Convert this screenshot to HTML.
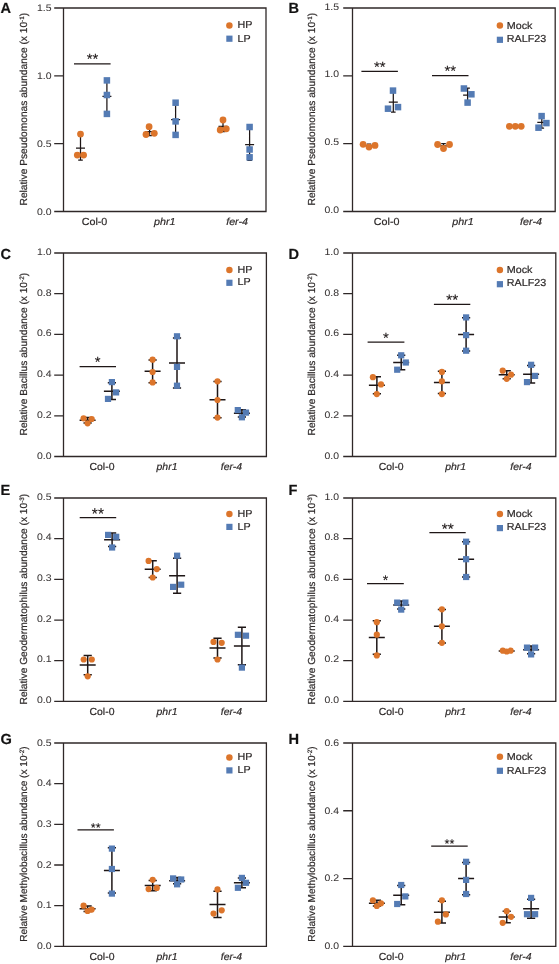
<!DOCTYPE html>
<html lang="en"><head><meta charset="utf-8"><title>Figure</title>
<style>html,body{margin:0;padding:0;background:#fff}body{width:559px;height:964px;overflow:hidden}</style>
</head><body>
<svg width="559" height="964" viewBox="0 0 559 964" style="display:block" font-family='"Liberation Sans", Arial, Helvetica, sans-serif'>
<style>text{stroke:#2e2a2a;stroke-width:.2px;text-rendering:geometricPrecision}text.s{stroke-width:.1px;stroke:#1a1414;fill:#1a1414}text.t{stroke-width:.06px;stroke:#3b3737;fill:#3b3737}</style>
<rect width="559" height="964" fill="#fff"/>
<g>
<path d="M80.5 135.98V160.22M76 148.1H85M78.2 135.98H82.8M78.2 160.22H82.8M106.9 79.64V113.23M102.4 96.43H111.4M104.6 79.64H109.2M104.6 113.23H109.2M149.6 127.3V135.7M145.1 131.5H154.1M147.3 127.3H151.9M147.3 135.7H151.9M175.6 103.5V135.84M171.1 119.67H180.1M173.3 103.5H177.9M173.3 135.84H177.9M223 120.81V131.73M218.5 126.27H227.5M220.7 120.81H225.3M220.7 131.73H225.3M249.6 128.87V160.33M245.1 144.6H254.1M247.3 128.87H251.9M247.3 160.33H251.9" fill="none" stroke="#1e1616" stroke-width="1.25"/>
<circle cx="80.5" cy="134.1" r="3.4" fill="#DC752B"/>
<circle cx="77.3" cy="155.1" r="3.4" fill="#DC752B"/>
<circle cx="83.6" cy="155.1" r="3.4" fill="#DC752B"/>
<rect x="103.65" y="77.15" width="6.5" height="6.5" fill="#547BB4"/>
<rect x="103.65" y="91.75" width="6.5" height="6.5" fill="#547BB4"/>
<rect x="103.65" y="110.65" width="6.5" height="6.5" fill="#547BB4"/>
<circle cx="149.1" cy="126.7" r="3.4" fill="#DC752B"/>
<circle cx="146" cy="134.5" r="3.4" fill="#DC752B"/>
<circle cx="154.3" cy="133.3" r="3.4" fill="#DC752B"/>
<rect x="172.35" y="99.45" width="6.5" height="6.5" fill="#547BB4"/>
<rect x="172.35" y="118.15" width="6.5" height="6.5" fill="#547BB4"/>
<rect x="172.35" y="131.65" width="6.5" height="6.5" fill="#547BB4"/>
<circle cx="223" cy="120" r="3.4" fill="#DC752B"/>
<circle cx="220.2" cy="130" r="3.4" fill="#DC752B"/>
<circle cx="226.3" cy="128.8" r="3.4" fill="#DC752B"/>
<rect x="246.35" y="123.75" width="6.5" height="6.5" fill="#547BB4"/>
<rect x="246.35" y="146.25" width="6.5" height="6.5" fill="#547BB4"/>
<rect x="246.35" y="154.05" width="6.5" height="6.5" fill="#547BB4"/>
<path d="M74 63.9H110.6" stroke="#1e1616" stroke-width="1.25" fill="none"/>
<text x="92.6" y="64.4" font-size="14.9" text-anchor="middle" fill="#2e2a2a" class="s">**</text>
<text transform="translate(51.5 214.55) scale(1.09 1)" font-size="9.6" text-anchor="end" fill="#2e2a2a" class="t">0.0</text>
<text transform="translate(51.5 146.72) scale(1.09 1)" font-size="9.6" text-anchor="end" fill="#2e2a2a" class="t">0.5</text>
<text transform="translate(51.5 78.88) scale(1.09 1)" font-size="9.6" text-anchor="end" fill="#2e2a2a" class="t">1.0</text>
<text transform="translate(51.5 11.05) scale(1.09 1)" font-size="9.6" text-anchor="end" fill="#2e2a2a" class="t">1.5</text>
<path d="M63.5 8H266V211.5H63.5ZM54.2 211.5H63.5M54.2 143.67H63.5M54.2 75.83H63.5M54.2 8H63.5" fill="none" stroke="#2f2828" stroke-width="1.3"/>
<text transform="translate(94.5 225.1) scale(1.055 1)" font-size="10.2" text-anchor="middle" fill="#2e2a2a">Col-0</text>
<text transform="translate(164.7 225.1) scale(1.055 1)" font-size="10.2" text-anchor="middle" fill="#2e2a2a" font-style="italic">phr1</text>
<text transform="translate(237.1 225.1) scale(1.055 1)" font-size="10.2" text-anchor="middle" fill="#2e2a2a" font-style="italic">fer-4</text>
<text transform="translate(27.4 109.15) rotate(-90)" font-size="10.2" text-anchor="middle" fill="#2e2a2a">Relative Pseudomonas abundance (x 10<tspan font-size="6.4" dy="-3.4">-1</tspan><tspan dy="3.4">)</tspan></text>
<circle cx="229.4" cy="25.5" r="3.25" fill="#DC752B"/>
<rect x="226.3" y="35.6" width="6.2" height="6.2" fill="#547BB4"/>
<text transform="translate(237.4 28.4) scale(1.055 1)" font-size="10.2" text-anchor="start" fill="#2e2a2a">HP</text>
<text transform="translate(237.4 41.5) scale(1.055 1)" font-size="10.2" text-anchor="start" fill="#2e2a2a">LP</text>
<text x="0.6" y="13" font-size="14.6" font-weight="bold" fill="#111">A</text>
</g>
<g>
<path d="M369 144.19V147.01M364.5 145.6H373.5M366.7 144.19H371.3M366.7 147.01H371.3M393.3 92.11V112.15M388.8 102.13H397.8M391 92.11H395.6M391 112.15H395.6M443.5 143.52V148.14M439 145.83H448M441.2 143.52H445.8M441.2 148.14H445.8M467.6 88.05V102.22M463.1 95.13H472.1M465.3 88.05H469.9M465.3 102.22H469.9M515.3 126.3V126.3M510.8 126.3H519.8M513 126.3H517.6M513 126.3H517.6M541.8 116.46V128.14M537.3 122.3H546.3M539.5 116.46H544.1M539.5 128.14H544.1" fill="none" stroke="#1e1616" stroke-width="1.25"/>
<circle cx="363.1" cy="144.3" r="3.4" fill="#DC752B"/>
<circle cx="369" cy="147.1" r="3.4" fill="#DC752B"/>
<circle cx="375" cy="145.4" r="3.4" fill="#DC752B"/>
<rect x="389.75" y="87.35" width="6.5" height="6.5" fill="#547BB4"/>
<rect x="384.75" y="105.45" width="6.5" height="6.5" fill="#547BB4"/>
<rect x="394.75" y="103.85" width="6.5" height="6.5" fill="#547BB4"/>
<circle cx="437.6" cy="144.5" r="3.4" fill="#DC752B"/>
<circle cx="443.5" cy="148.5" r="3.4" fill="#DC752B"/>
<circle cx="449.5" cy="144.5" r="3.4" fill="#DC752B"/>
<rect x="460.65" y="85.25" width="6.5" height="6.5" fill="#547BB4"/>
<rect x="468.15" y="91.05" width="6.5" height="6.5" fill="#547BB4"/>
<rect x="464.35" y="99.35" width="6.5" height="6.5" fill="#547BB4"/>
<circle cx="509.4" cy="126.3" r="3.4" fill="#DC752B"/>
<circle cx="515.3" cy="126.3" r="3.4" fill="#DC752B"/>
<circle cx="521.2" cy="126.3" r="3.4" fill="#DC752B"/>
<rect x="538.35" y="112.85" width="6.5" height="6.5" fill="#547BB4"/>
<rect x="543.15" y="119.85" width="6.5" height="6.5" fill="#547BB4"/>
<rect x="535.25" y="124.45" width="6.5" height="6.5" fill="#547BB4"/>
<path d="M361.4 71.3H397.9" stroke="#1e1616" stroke-width="1.25" fill="none"/>
<text x="379.7" y="72.2" font-size="14.9" text-anchor="middle" fill="#2e2a2a" class="s">**</text>
<path d="M432 75.7H468.5" stroke="#1e1616" stroke-width="1.25" fill="none"/>
<text x="450.2" y="76.1" font-size="14.9" text-anchor="middle" fill="#2e2a2a" class="s">**</text>
<text transform="translate(339 213) scale(1.09 1)" font-size="9.6" text-anchor="end" fill="#2e2a2a" class="t">0.0</text>
<text transform="translate(339 145.17) scale(1.09 1)" font-size="9.6" text-anchor="end" fill="#2e2a2a" class="t">0.5</text>
<text transform="translate(339 77.33) scale(1.09 1)" font-size="9.6" text-anchor="end" fill="#2e2a2a" class="t">1.0</text>
<text transform="translate(339 9.5) scale(1.09 1)" font-size="9.6" text-anchor="end" fill="#2e2a2a" class="t">1.5</text>
<path d="M352.5 8H555.2V211.5H352.5ZM343.2 211.5H352.5M343.2 143.67H352.5M343.2 75.83H352.5M343.2 8H352.5" fill="none" stroke="#2f2828" stroke-width="1.3"/>
<text transform="translate(386.7 225.1) scale(1.055 1)" font-size="10.2" text-anchor="middle" fill="#2e2a2a">Col-0</text>
<text transform="translate(463 225.1) scale(1.055 1)" font-size="10.2" text-anchor="middle" fill="#2e2a2a" font-style="italic">phr1</text>
<text transform="translate(531 225.1) scale(1.055 1)" font-size="10.2" text-anchor="middle" fill="#2e2a2a" font-style="italic">fer-4</text>
<text transform="translate(315 109.15) rotate(-90)" font-size="10.2" text-anchor="middle" fill="#2e2a2a">Relative Pseudomonas abundance (x 10<tspan font-size="6.4" dy="-3.4">-1</tspan><tspan dy="3.4">)</tspan></text>
<circle cx="499.9" cy="25.5" r="3.25" fill="#DC752B"/>
<rect x="496.8" y="36.7" width="6.2" height="6.2" fill="#547BB4"/>
<text transform="translate(506.8 28.5) scale(1.055 1)" font-size="10.2" text-anchor="start" fill="#2e2a2a">Mock</text>
<text transform="translate(506.8 42.4) scale(1.055 1)" font-size="10.2" text-anchor="start" fill="#2e2a2a">RALF23</text>
<text x="288.6" y="13" font-size="14.6" font-weight="bold" fill="#111">B</text>
</g>
<g>
<path d="M87.6 417.49V422.91M79.6 420.2H95.6M83.5 417.49H91.7M83.5 422.91H91.7M111.9 382.66V399.6M103.9 391.13H119.9M107.8 382.66H116M107.8 399.6H116M152.6 360V382.73M144.6 371.37H160.6M148.5 360H156.7M148.5 382.73H156.7M177 338.03V387.9M169 362.97H185M172.9 338.03H181.1M172.9 387.9H181.1M217.5 381.48V417.79M209.5 399.63H225.5M213.4 381.48H221.6M213.4 417.79H221.6M241.9 409.68V416.99M233.9 413.33H249.9M237.8 409.68H246M237.8 416.99H246" fill="none" stroke="#1e1616" stroke-width="1.5"/>
<circle cx="83.6" cy="418.3" r="3.1" fill="#DC752B"/>
<circle cx="91.7" cy="419" r="3.1" fill="#DC752B"/>
<circle cx="87.6" cy="423.3" r="3.1" fill="#DC752B"/>
<rect x="108.8" y="379" width="6.2" height="6.2" fill="#547BB4"/>
<rect x="113" y="389.3" width="6.2" height="6.2" fill="#547BB4"/>
<rect x="104.9" y="395.8" width="6.2" height="6.2" fill="#547BB4"/>
<circle cx="152.6" cy="359.7" r="3.1" fill="#DC752B"/>
<circle cx="152.6" cy="372" r="3.1" fill="#DC752B"/>
<circle cx="152.6" cy="382.4" r="3.1" fill="#DC752B"/>
<rect x="173.9" y="333.2" width="6.2" height="6.2" fill="#547BB4"/>
<rect x="173.9" y="363.8" width="6.2" height="6.2" fill="#547BB4"/>
<rect x="173.9" y="382.6" width="6.2" height="6.2" fill="#547BB4"/>
<circle cx="217.5" cy="381.3" r="3.1" fill="#DC752B"/>
<circle cx="217.5" cy="400" r="3.1" fill="#DC752B"/>
<circle cx="217.5" cy="417.6" r="3.1" fill="#DC752B"/>
<rect x="234.7" y="407" width="6.2" height="6.2" fill="#547BB4"/>
<rect x="242.9" y="409.5" width="6.2" height="6.2" fill="#547BB4"/>
<rect x="238.8" y="414.2" width="6.2" height="6.2" fill="#547BB4"/>
<path d="M79.6 366.6H116" stroke="#1e1616" stroke-width="1.25" fill="none"/>
<text x="97.7" y="367.15" font-size="14.9" text-anchor="middle" fill="#2e2a2a" class="s">*</text>
<text transform="translate(51.5 458.5) scale(1.09 1)" font-size="9.6" text-anchor="end" fill="#2e2a2a" class="t">0.0</text>
<text transform="translate(51.5 417.8) scale(1.09 1)" font-size="9.6" text-anchor="end" fill="#2e2a2a" class="t">0.2</text>
<text transform="translate(51.5 377.1) scale(1.09 1)" font-size="9.6" text-anchor="end" fill="#2e2a2a" class="t">0.4</text>
<text transform="translate(51.5 336.4) scale(1.09 1)" font-size="9.6" text-anchor="end" fill="#2e2a2a" class="t">0.6</text>
<text transform="translate(51.5 295.7) scale(1.09 1)" font-size="9.6" text-anchor="end" fill="#2e2a2a" class="t">0.8</text>
<text transform="translate(51.5 255) scale(1.09 1)" font-size="9.6" text-anchor="end" fill="#2e2a2a" class="t">1.0</text>
<path d="M63.5 253H266.4V456.5H63.5ZM54.2 456.5H63.5M54.2 415.8H63.5M54.2 375.1H63.5M54.2 334.4H63.5M54.2 293.7H63.5M54.2 253H63.5" fill="none" stroke="#2f2828" stroke-width="1.3"/>
<text transform="translate(102 470.4) scale(1.025 1)" font-size="10.2" text-anchor="middle" fill="#2e2a2a">Col-0</text>
<text transform="translate(167 470.4) scale(1.025 1)" font-size="10.2" text-anchor="middle" fill="#2e2a2a" font-style="italic">phr1</text>
<text transform="translate(231.5 470.4) scale(1.025 1)" font-size="10.2" text-anchor="middle" fill="#2e2a2a" font-style="italic">fer-4</text>
<text transform="translate(27.4 354.15) rotate(-90)" font-size="10.2" text-anchor="middle" fill="#2e2a2a">Relative Bacillus abundance (x 10<tspan font-size="6.4" dy="-3.4">-2</tspan><tspan dy="3.4">)</tspan></text>
<circle cx="229.4" cy="269.9" r="3.25" fill="#DC752B"/>
<rect x="226.3" y="279.7" width="6.2" height="6.2" fill="#547BB4"/>
<text transform="translate(237.4 272.5) scale(1.055 1)" font-size="10.2" text-anchor="start" fill="#2e2a2a">HP</text>
<text transform="translate(237.4 285.4) scale(1.055 1)" font-size="10.2" text-anchor="start" fill="#2e2a2a">LP</text>
<text x="0.6" y="258.7" font-size="14.6" font-weight="bold" fill="#111">C</text>
</g>
<g>
<path d="M376.9 376.75V393.71M368.9 385.23H384.9M372.8 376.75H381M372.8 393.71H381M401.2 355.3V369.7M393.2 362.5H409.2M397.1 355.3H405.3M397.1 369.7H405.3M441.9 371.29V393.58M433.9 382.43H449.9M437.8 371.29H446M437.8 393.58H446M466.1 317.74V351.06M458.1 334.4H474.1M462 317.74H470.2M462 351.06H470.2M506.7 370.68V378.78M498.7 374.73H514.7M502.6 370.68H510.8M502.6 378.78H510.8M531.1 365.5V383.03M523.1 374.27H539.1M527 365.5H535.2M527 383.03H535.2" fill="none" stroke="#1e1616" stroke-width="1.5"/>
<circle cx="372.9" cy="377.2" r="3.1" fill="#DC752B"/>
<circle cx="381" cy="384.4" r="3.1" fill="#DC752B"/>
<circle cx="376.8" cy="394.1" r="3.1" fill="#DC752B"/>
<rect x="398.1" y="352.2" width="6.2" height="6.2" fill="#547BB4"/>
<rect x="402.7" y="359.4" width="6.2" height="6.2" fill="#547BB4"/>
<rect x="394.1" y="366.6" width="6.2" height="6.2" fill="#547BB4"/>
<circle cx="441.9" cy="371.9" r="3.1" fill="#DC752B"/>
<circle cx="441.9" cy="381.3" r="3.1" fill="#DC752B"/>
<circle cx="441.9" cy="394.1" r="3.1" fill="#DC752B"/>
<rect x="463" y="314.3" width="6.2" height="6.2" fill="#547BB4"/>
<rect x="463" y="332" width="6.2" height="6.2" fill="#547BB4"/>
<rect x="463" y="347.6" width="6.2" height="6.2" fill="#547BB4"/>
<circle cx="502.7" cy="370.7" r="3.1" fill="#DC752B"/>
<circle cx="511" cy="374.7" r="3.1" fill="#DC752B"/>
<circle cx="506.7" cy="378.8" r="3.1" fill="#DC752B"/>
<rect x="528" y="361.7" width="6.2" height="6.2" fill="#547BB4"/>
<rect x="532" y="372.8" width="6.2" height="6.2" fill="#547BB4"/>
<rect x="523.9" y="379" width="6.2" height="6.2" fill="#547BB4"/>
<path d="M367.6 342.2H404.4" stroke="#1e1616" stroke-width="1.25" fill="none"/>
<text x="385.8" y="343.05" font-size="14.9" text-anchor="middle" fill="#2e2a2a" class="s">*</text>
<path d="M433.9 304.3H470.3" stroke="#1e1616" stroke-width="1.25" fill="none"/>
<text x="452.2" y="305.05" font-size="15.3" text-anchor="middle" fill="#2e2a2a" class="s">**</text>
<text transform="translate(339 458.5) scale(1.09 1)" font-size="9.6" text-anchor="end" fill="#2e2a2a" class="t">0.0</text>
<text transform="translate(339 417.8) scale(1.09 1)" font-size="9.6" text-anchor="end" fill="#2e2a2a" class="t">0.2</text>
<text transform="translate(339 377.1) scale(1.09 1)" font-size="9.6" text-anchor="end" fill="#2e2a2a" class="t">0.4</text>
<text transform="translate(339 336.4) scale(1.09 1)" font-size="9.6" text-anchor="end" fill="#2e2a2a" class="t">0.6</text>
<text transform="translate(339 295.7) scale(1.09 1)" font-size="9.6" text-anchor="end" fill="#2e2a2a" class="t">0.8</text>
<text transform="translate(339 255) scale(1.09 1)" font-size="9.6" text-anchor="end" fill="#2e2a2a" class="t">1.0</text>
<path d="M352.5 253H555.8V456.5H352.5ZM343.2 456.5H352.5M343.2 415.8H352.5M343.2 375.1H352.5M343.2 334.4H352.5M343.2 293.7H352.5M343.2 253H352.5" fill="none" stroke="#2f2828" stroke-width="1.3"/>
<text transform="translate(391.2 470.4) scale(1.025 1)" font-size="10.2" text-anchor="middle" fill="#2e2a2a">Col-0</text>
<text transform="translate(455.6 470.4) scale(1.025 1)" font-size="10.2" text-anchor="middle" fill="#2e2a2a" font-style="italic">phr1</text>
<text transform="translate(521 470.4) scale(1.025 1)" font-size="10.2" text-anchor="middle" fill="#2e2a2a" font-style="italic">fer-4</text>
<text transform="translate(315 354.15) rotate(-90)" font-size="10.2" text-anchor="middle" fill="#2e2a2a">Relative Bacillus abundance (x 10<tspan font-size="6.4" dy="-3.4">-2</tspan><tspan dy="3.4">)</tspan></text>
<circle cx="499.9" cy="269.95" r="3.25" fill="#DC752B"/>
<rect x="496.8" y="281.1" width="6.2" height="6.2" fill="#547BB4"/>
<text transform="translate(506.8 272.6) scale(1.055 1)" font-size="10.2" text-anchor="start" fill="#2e2a2a">Mock</text>
<text transform="translate(506.8 286.05) scale(1.055 1)" font-size="10.2" text-anchor="start" fill="#2e2a2a">RALF23</text>
<text x="288.6" y="258.7" font-size="14.6" font-weight="bold" fill="#111">D</text>
</g>
<g>
<path d="M87.7 655.4V674.8M79.7 665.1H95.7M83.6 655.4H91.8M83.6 674.8H91.8M112.1 532.94V546.53M104.1 539.73H120.1M108 532.94H116.2M108 546.53H116.2M152.7 560.87V577.47M144.7 569.17H160.7M148.6 560.87H156.8M148.6 577.47H156.8M177.1 558.35V593.18M169.1 575.77H185.1M173 558.35H181.2M173 593.18H181.2M217.5 638.15V657.98M209.5 648.07H225.5M213.4 638.15H221.6M213.4 657.98H221.6M241.9 627.35V664.72M233.9 646.03H249.9M237.8 627.35H246M237.8 664.72H246" fill="none" stroke="#1e1616" stroke-width="1.5"/>
<circle cx="83.7" cy="659.5" r="3.1" fill="#DC752B"/>
<circle cx="91.8" cy="659.5" r="3.1" fill="#DC752B"/>
<circle cx="87.7" cy="676.3" r="3.1" fill="#DC752B"/>
<rect x="105" y="531.8" width="6.2" height="6.2" fill="#547BB4"/>
<rect x="113.1" y="533.7" width="6.2" height="6.2" fill="#547BB4"/>
<rect x="109" y="544.4" width="6.2" height="6.2" fill="#547BB4"/>
<circle cx="148.6" cy="560.9" r="3.1" fill="#DC752B"/>
<circle cx="156.8" cy="569.1" r="3.1" fill="#DC752B"/>
<circle cx="152.7" cy="577.5" r="3.1" fill="#DC752B"/>
<rect x="174" y="552.6" width="6.2" height="6.2" fill="#547BB4"/>
<rect x="170" y="583.8" width="6.2" height="6.2" fill="#547BB4"/>
<rect x="178.1" y="581.6" width="6.2" height="6.2" fill="#547BB4"/>
<circle cx="213.5" cy="641.9" r="3.1" fill="#DC752B"/>
<circle cx="221.7" cy="642.8" r="3.1" fill="#DC752B"/>
<circle cx="217.5" cy="659.5" r="3.1" fill="#DC752B"/>
<rect x="234.8" y="631.7" width="6.2" height="6.2" fill="#547BB4"/>
<rect x="242.9" y="632.6" width="6.2" height="6.2" fill="#547BB4"/>
<rect x="238.8" y="664.5" width="6.2" height="6.2" fill="#547BB4"/>
<path d="M79.7 517.7H116.2" stroke="#1e1616" stroke-width="1.25" fill="none"/>
<text x="97.9" y="518.9" font-size="15.5" text-anchor="middle" fill="#2e2a2a" class="s">**</text>
<text transform="translate(51.5 703) scale(1.09 1)" font-size="9.6" text-anchor="end" fill="#2e2a2a" class="t">0.0</text>
<text transform="translate(51.5 662.32) scale(1.09 1)" font-size="9.6" text-anchor="end" fill="#2e2a2a" class="t">0.1</text>
<text transform="translate(51.5 621.64) scale(1.09 1)" font-size="9.6" text-anchor="end" fill="#2e2a2a" class="t">0.2</text>
<text transform="translate(51.5 580.96) scale(1.09 1)" font-size="9.6" text-anchor="end" fill="#2e2a2a" class="t">0.3</text>
<text transform="translate(51.5 540.28) scale(1.09 1)" font-size="9.6" text-anchor="end" fill="#2e2a2a" class="t">0.4</text>
<text transform="translate(51.5 499.6) scale(1.09 1)" font-size="9.6" text-anchor="end" fill="#2e2a2a" class="t">0.5</text>
<path d="M63.5 498H266.4V701.4H63.5ZM54.2 701.4H63.5M54.2 660.72H63.5M54.2 620.04H63.5M54.2 579.36H63.5M54.2 538.68H63.5M54.2 498H63.5" fill="none" stroke="#2f2828" stroke-width="1.3"/>
<text transform="translate(102 715.3) scale(1.025 1)" font-size="10.2" text-anchor="middle" fill="#2e2a2a">Col-0</text>
<text transform="translate(167 715.3) scale(1.025 1)" font-size="10.2" text-anchor="middle" fill="#2e2a2a" font-style="italic">phr1</text>
<text transform="translate(231.5 715.3) scale(1.025 1)" font-size="10.2" text-anchor="middle" fill="#2e2a2a" font-style="italic">fer-4</text>
<text transform="translate(27.4 599.1) rotate(-90)" font-size="10.2" text-anchor="middle" fill="#2e2a2a">Relative Geodermatophilus abundance (x 10<tspan font-size="6.4" dy="-3.4">-3</tspan><tspan dy="3.4">)</tspan></text>
<circle cx="229.4" cy="513.9" r="3.25" fill="#DC752B"/>
<rect x="226.3" y="523.8" width="6.2" height="6.2" fill="#547BB4"/>
<text transform="translate(237.4 516.6) scale(1.055 1)" font-size="10.2" text-anchor="start" fill="#2e2a2a">HP</text>
<text transform="translate(237.4 530) scale(1.055 1)" font-size="10.2" text-anchor="start" fill="#2e2a2a">LP</text>
<text x="0.6" y="494.6" font-size="14.6" font-weight="bold" fill="#111">E</text>
</g>
<g>
<path d="M376.8 620.67V654.2M368.8 637.43H384.8M372.7 620.67H380.9M372.7 654.2H380.9M401.2 600.89V608.97M393.2 604.93H409.2M397.1 600.89H405.3M397.1 608.97H405.3M441.9 609.38V642.88M433.9 626.13H449.9M437.8 609.38H446M437.8 642.88H446M466.1 541.65V576.95M458.1 559.3H474.1M462 541.65H470.2M462 576.95H470.2M506.7 650.5V651.43M498.7 650.97H514.7M502.6 650.5H510.8M502.6 651.43H510.8M531.1 645.94V653.79M523.1 649.87H539.1M527 645.94H535.2M527 653.79H535.2" fill="none" stroke="#1e1616" stroke-width="1.5"/>
<circle cx="376.8" cy="622.2" r="3.1" fill="#DC752B"/>
<circle cx="376.8" cy="634.7" r="3.1" fill="#DC752B"/>
<circle cx="376.8" cy="655.4" r="3.1" fill="#DC752B"/>
<rect x="394.1" y="599.5" width="6.2" height="6.2" fill="#547BB4"/>
<rect x="402.3" y="599.5" width="6.2" height="6.2" fill="#547BB4"/>
<rect x="398.1" y="606.5" width="6.2" height="6.2" fill="#547BB4"/>
<circle cx="441.9" cy="609.3" r="3.1" fill="#DC752B"/>
<circle cx="441.9" cy="626.3" r="3.1" fill="#DC752B"/>
<circle cx="441.9" cy="642.8" r="3.1" fill="#DC752B"/>
<rect x="463" y="538.6" width="6.2" height="6.2" fill="#547BB4"/>
<rect x="463" y="556.1" width="6.2" height="6.2" fill="#547BB4"/>
<rect x="463" y="573.9" width="6.2" height="6.2" fill="#547BB4"/>
<circle cx="502.8" cy="650.7" r="3.1" fill="#DC752B"/>
<circle cx="506.7" cy="651.5" r="3.1" fill="#DC752B"/>
<circle cx="510.6" cy="650.7" r="3.1" fill="#DC752B"/>
<rect x="523.9" y="644.5" width="6.2" height="6.2" fill="#547BB4"/>
<rect x="532" y="644.5" width="6.2" height="6.2" fill="#547BB4"/>
<rect x="528" y="651.3" width="6.2" height="6.2" fill="#547BB4"/>
<path d="M367 583.5H403.8" stroke="#1e1616" stroke-width="1.25" fill="none"/>
<text x="385.5" y="585.1" font-size="14.0" text-anchor="middle" fill="#2e2a2a" class="s">*</text>
<path d="M429.4 532.7H465.7" stroke="#1e1616" stroke-width="1.25" fill="none"/>
<text x="447.8" y="533.7" font-size="15.3" text-anchor="middle" fill="#2e2a2a" class="s">**</text>
<text transform="translate(339 703.1) scale(1.09 1)" font-size="9.6" text-anchor="end" fill="#2e2a2a" class="t">0.0</text>
<text transform="translate(339 662.42) scale(1.09 1)" font-size="9.6" text-anchor="end" fill="#2e2a2a" class="t">0.2</text>
<text transform="translate(339 621.74) scale(1.09 1)" font-size="9.6" text-anchor="end" fill="#2e2a2a" class="t">0.4</text>
<text transform="translate(339 581.06) scale(1.09 1)" font-size="9.6" text-anchor="end" fill="#2e2a2a" class="t">0.6</text>
<text transform="translate(339 540.38) scale(1.09 1)" font-size="9.6" text-anchor="end" fill="#2e2a2a" class="t">0.8</text>
<text transform="translate(339 499.7) scale(1.09 1)" font-size="9.6" text-anchor="end" fill="#2e2a2a" class="t">1.0</text>
<path d="M352.5 498H555.8V701.4H352.5ZM343.2 701.4H352.5M343.2 660.72H352.5M343.2 620.04H352.5M343.2 579.36H352.5M343.2 538.68H352.5M343.2 498H352.5" fill="none" stroke="#2f2828" stroke-width="1.3"/>
<text transform="translate(391.2 715.3) scale(1.025 1)" font-size="10.2" text-anchor="middle" fill="#2e2a2a">Col-0</text>
<text transform="translate(455.6 715.3) scale(1.025 1)" font-size="10.2" text-anchor="middle" fill="#2e2a2a" font-style="italic">phr1</text>
<text transform="translate(521 715.3) scale(1.025 1)" font-size="10.2" text-anchor="middle" fill="#2e2a2a" font-style="italic">fer-4</text>
<text transform="translate(315 599.1) rotate(-90)" font-size="10.2" text-anchor="middle" fill="#2e2a2a">Relative Geodermatophilus abundance (x 10<tspan font-size="6.4" dy="-3.4">-3</tspan><tspan dy="3.4">)</tspan></text>
<circle cx="499.9" cy="513.9" r="3.25" fill="#DC752B"/>
<rect x="496.8" y="525" width="6.2" height="6.2" fill="#547BB4"/>
<text transform="translate(506.8 516.6) scale(1.055 1)" font-size="10.2" text-anchor="start" fill="#2e2a2a">Mock</text>
<text transform="translate(506.8 530.2) scale(1.055 1)" font-size="10.2" text-anchor="start" fill="#2e2a2a">RALF23</text>
<text x="288.6" y="494.6" font-size="14.6" font-weight="bold" fill="#111">F</text>
</g>
<g>
<path d="M87.6 906.02V911.51M79.6 908.77H95.6M83.5 906.02H91.7M83.5 911.51H91.7M111.9 847.87V892.93M103.9 870.4H119.9M107.8 847.87H116M107.8 892.93H116M152.7 880.54V890.66M144.7 885.6H160.7M148.6 880.54H156.8M148.6 890.66H156.8M177.1 877.6V883.87M169.1 880.73H185.1M173 877.6H181.2M173 883.87H181.2M217.5 891.31V917.56M209.5 904.43H225.5M213.4 891.31H221.6M213.4 917.56H221.6M241.9 877.88V887.78M233.9 882.83H249.9M237.8 877.88H246M237.8 887.78H246" fill="none" stroke="#1e1616" stroke-width="1.5"/>
<circle cx="83.6" cy="905.7" r="3.1" fill="#DC752B"/>
<circle cx="87.6" cy="911" r="3.1" fill="#DC752B"/>
<circle cx="91.7" cy="909.6" r="3.1" fill="#DC752B"/>
<rect x="108.8" y="845.5" width="6.2" height="6.2" fill="#547BB4"/>
<rect x="108.8" y="865.9" width="6.2" height="6.2" fill="#547BB4"/>
<rect x="108.8" y="890.5" width="6.2" height="6.2" fill="#547BB4"/>
<circle cx="152.7" cy="879.8" r="3.1" fill="#DC752B"/>
<circle cx="148.6" cy="889.1" r="3.1" fill="#DC752B"/>
<circle cx="156.8" cy="887.9" r="3.1" fill="#DC752B"/>
<rect x="170" y="875.3" width="6.2" height="6.2" fill="#547BB4"/>
<rect x="178.1" y="876.4" width="6.2" height="6.2" fill="#547BB4"/>
<rect x="174" y="881.2" width="6.2" height="6.2" fill="#547BB4"/>
<circle cx="217.5" cy="889.4" r="3.1" fill="#DC752B"/>
<circle cx="213.5" cy="913.6" r="3.1" fill="#DC752B"/>
<circle cx="221.7" cy="910.3" r="3.1" fill="#DC752B"/>
<rect x="238.8" y="874.8" width="6.2" height="6.2" fill="#547BB4"/>
<rect x="242.9" y="879.7" width="6.2" height="6.2" fill="#547BB4"/>
<rect x="234.8" y="884.7" width="6.2" height="6.2" fill="#547BB4"/>
<path d="M77.5 829.9H113.9" stroke="#1e1616" stroke-width="1.25" fill="none"/>
<text x="95.8" y="831.5" font-size="12.7" text-anchor="middle" fill="#2e2a2a" class="s">**</text>
<text transform="translate(51.5 949.05) scale(1.09 1)" font-size="9.6" text-anchor="end" fill="#2e2a2a" class="t">0.0</text>
<text transform="translate(51.5 908.39) scale(1.09 1)" font-size="9.6" text-anchor="end" fill="#2e2a2a" class="t">0.1</text>
<text transform="translate(51.5 867.73) scale(1.09 1)" font-size="9.6" text-anchor="end" fill="#2e2a2a" class="t">0.2</text>
<text transform="translate(51.5 827.07) scale(1.09 1)" font-size="9.6" text-anchor="end" fill="#2e2a2a" class="t">0.3</text>
<text transform="translate(51.5 786.41) scale(1.09 1)" font-size="9.6" text-anchor="end" fill="#2e2a2a" class="t">0.4</text>
<text transform="translate(51.5 745.75) scale(1.09 1)" font-size="9.6" text-anchor="end" fill="#2e2a2a" class="t">0.5</text>
<path d="M63.5 743H266.4V946.3H63.5ZM54.2 946.3H63.5M54.2 905.64H63.5M54.2 864.98H63.5M54.2 824.32H63.5M54.2 783.66H63.5M54.2 743H63.5" fill="none" stroke="#2f2828" stroke-width="1.3"/>
<text transform="translate(102 959.8) scale(1.025 1)" font-size="10.2" text-anchor="middle" fill="#2e2a2a">Col-0</text>
<text transform="translate(167 959.8) scale(1.025 1)" font-size="10.2" text-anchor="middle" fill="#2e2a2a" font-style="italic">phr1</text>
<text transform="translate(231.5 959.8) scale(1.025 1)" font-size="10.2" text-anchor="middle" fill="#2e2a2a" font-style="italic">fer-4</text>
<text transform="translate(27.4 844.05) rotate(-90)" font-size="10.1" text-anchor="middle" fill="#2e2a2a">Relative Methylobacillus abundance (x 10<tspan font-size="6.4" dy="-3.4">-2</tspan><tspan dy="3.4">)</tspan></text>
<circle cx="229.4" cy="757.6" r="3.25" fill="#DC752B"/>
<rect x="226.3" y="767.3" width="6.2" height="6.2" fill="#547BB4"/>
<text transform="translate(237.4 760.3) scale(1.055 1)" font-size="10.2" text-anchor="start" fill="#2e2a2a">HP</text>
<text transform="translate(237.4 773.4) scale(1.055 1)" font-size="10.2" text-anchor="start" fill="#2e2a2a">LP</text>
<text x="0.6" y="744" font-size="14.6" font-weight="bold" fill="#111">G</text>
</g>
<g>
<path d="M376.9 900.35V906.05M368.9 903.2H384.9M372.8 900.35H381M372.8 906.05H381M401.2 885.57V904.7M393.2 895.13H409.2M397.1 885.57H405.3M397.1 904.7H405.3M441.9 901.25V923.01M433.9 912.13H449.9M437.8 901.25H446M437.8 923.01H446M466.1 862.43V894.71M458.1 878.57H474.1M462 862.43H470.2M462 894.71H470.2M506.7 911.13V922.73M498.7 916.93H514.7M502.6 911.13H510.8M502.6 922.73H510.8M531.1 899.36V918.18M523.1 908.77H539.1M527 899.36H535.2M527 918.18H535.2" fill="none" stroke="#1e1616" stroke-width="1.5"/>
<circle cx="372.9" cy="900.3" r="3.1" fill="#DC752B"/>
<circle cx="381" cy="903.3" r="3.1" fill="#DC752B"/>
<circle cx="376.8" cy="906" r="3.1" fill="#DC752B"/>
<rect x="398.1" y="881.9" width="6.2" height="6.2" fill="#547BB4"/>
<rect x="402.2" y="893.3" width="6.2" height="6.2" fill="#547BB4"/>
<rect x="394.1" y="900.9" width="6.2" height="6.2" fill="#547BB4"/>
<circle cx="441.9" cy="900.3" r="3.1" fill="#DC752B"/>
<circle cx="445.9" cy="914.4" r="3.1" fill="#DC752B"/>
<circle cx="437.9" cy="921.7" r="3.1" fill="#DC752B"/>
<rect x="463" y="858.7" width="6.2" height="6.2" fill="#547BB4"/>
<rect x="463" y="876.8" width="6.2" height="6.2" fill="#547BB4"/>
<rect x="463" y="890.9" width="6.2" height="6.2" fill="#547BB4"/>
<circle cx="506.7" cy="911.2" r="3.1" fill="#DC752B"/>
<circle cx="511" cy="916.8" r="3.1" fill="#DC752B"/>
<circle cx="502.7" cy="922.8" r="3.1" fill="#DC752B"/>
<rect x="528" y="894.8" width="6.2" height="6.2" fill="#547BB4"/>
<rect x="523.9" y="911.1" width="6.2" height="6.2" fill="#547BB4"/>
<rect x="532" y="911.1" width="6.2" height="6.2" fill="#547BB4"/>
<path d="M431.2 846.1H467.7" stroke="#1e1616" stroke-width="1.25" fill="none"/>
<text x="449.5" y="847.7" font-size="12.7" text-anchor="middle" fill="#2e2a2a" class="s">**</text>
<text transform="translate(339 949.2) scale(1.09 1)" font-size="9.6" text-anchor="end" fill="#2e2a2a" class="t">0.0</text>
<text transform="translate(339 881.43) scale(1.09 1)" font-size="9.6" text-anchor="end" fill="#2e2a2a" class="t">0.2</text>
<text transform="translate(339 813.67) scale(1.09 1)" font-size="9.6" text-anchor="end" fill="#2e2a2a" class="t">0.4</text>
<text transform="translate(339 745.9) scale(1.09 1)" font-size="9.6" text-anchor="end" fill="#2e2a2a" class="t">0.6</text>
<path d="M352.5 743H555.8V946.3H352.5ZM343.2 946.3H352.5M343.2 878.53H352.5M343.2 810.77H352.5M343.2 743H352.5" fill="none" stroke="#2f2828" stroke-width="1.3"/>
<text transform="translate(391.2 959.8) scale(1.025 1)" font-size="10.2" text-anchor="middle" fill="#2e2a2a">Col-0</text>
<text transform="translate(455.6 959.8) scale(1.025 1)" font-size="10.2" text-anchor="middle" fill="#2e2a2a" font-style="italic">phr1</text>
<text transform="translate(521 959.8) scale(1.025 1)" font-size="10.2" text-anchor="middle" fill="#2e2a2a" font-style="italic">fer-4</text>
<text transform="translate(315 844.05) rotate(-90)" font-size="10.1" text-anchor="middle" fill="#2e2a2a">Relative Methylobacillus abundance (x 10<tspan font-size="6.4" dy="-3.4">-2</tspan><tspan dy="3.4">)</tspan></text>
<circle cx="499.9" cy="756.8" r="3.25" fill="#DC752B"/>
<rect x="496.8" y="767.7" width="6.2" height="6.2" fill="#547BB4"/>
<text transform="translate(506.8 759.7) scale(1.055 1)" font-size="10.2" text-anchor="start" fill="#2e2a2a">Mock</text>
<text transform="translate(506.8 774) scale(1.055 1)" font-size="10.2" text-anchor="start" fill="#2e2a2a">RALF23</text>
<text x="288.6" y="744" font-size="14.6" font-weight="bold" fill="#111">H</text>
</g>
</svg>
</body></html>
